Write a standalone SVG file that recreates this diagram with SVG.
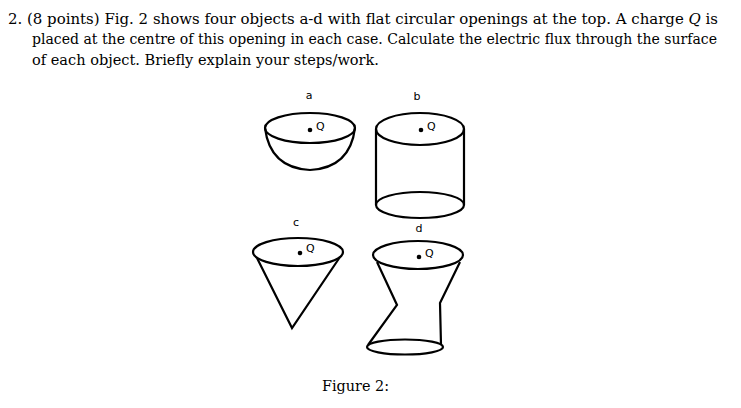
<svg xmlns="http://www.w3.org/2000/svg" width="741" height="408" viewBox="0 0 741 408">
<style>
.t{font-family:"DejaVu Serif","Liberation Serif",serif;font-size:14px;fill:#000}
.l{font-family:"DejaVu Sans","Liberation Sans",sans-serif;font-size:11px;fill:#000}
.s{fill:none;stroke:#000;stroke-width:2.2}
</style>
<rect width="741" height="408" fill="#fff"/>
<text class="t" x="8" y="24" textLength="710" lengthAdjust="spacingAndGlyphs">2. (8 points) Fig. 2 shows four objects a-d with flat circular openings at the top. A charge <tspan font-style="italic">Q</tspan> is</text>
<text class="t" x="32" y="44" textLength="685" lengthAdjust="spacingAndGlyphs">placed at the centre of this opening in each case. Calculate the electric flux through the surface</text>
<text class="t" x="32" y="65" textLength="347" lengthAdjust="spacingAndGlyphs">of each object. Briefly explain your steps/work.</text>
<g id="a">
<text class="l" x="309" y="99" text-anchor="middle">a</text>
<ellipse class="s" cx="310" cy="128" rx="45" ry="15"/>
<path class="s" d="M265,128 Q270,168 310,170 Q350,168 355,128"/>
<circle cx="310" cy="130" r="2.3"/><text class="l" x="316" y="130">Q</text>
</g>
<g id="b">
<text class="l" x="417" y="100" text-anchor="middle">b</text>
<ellipse class="s" cx="420" cy="129" rx="44" ry="16"/>
<path class="s" d="M376,129 V205 M464,129 V205"/>
<ellipse class="s" cx="420" cy="205" rx="44" ry="13"/>
<circle cx="421" cy="130" r="2.3"/><text class="l" x="427" y="130">Q</text>
</g>
<g id="c">
<text class="l" x="296" y="226" text-anchor="middle">c</text>
<ellipse class="s" cx="298" cy="252" rx="45" ry="14"/>
<path class="s" d="M257,258 L292,328 L340,257"/>
<circle cx="300" cy="253" r="2.3"/><text class="l" x="306" y="252">Q</text>
</g>
<g id="d">
<text class="l" x="419" y="232" text-anchor="middle">d</text>
<ellipse class="s" cx="418" cy="255" rx="45" ry="14"/>
<path class="s" d="M377,262 L397,305 L368,345 M460,262 L440,303 L441,345"/>
<ellipse class="s" cx="405" cy="347" rx="38" ry="7.5"/>
<circle cx="419" cy="257" r="2.3"/><text class="l" x="425" y="257">Q</text>
</g>
<text class="t" x="322" y="391" textLength="67" lengthAdjust="spacingAndGlyphs">Figure 2:</text>
</svg>
